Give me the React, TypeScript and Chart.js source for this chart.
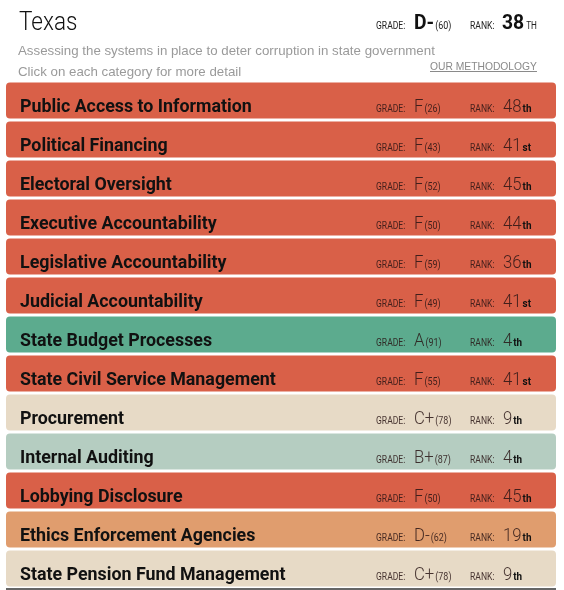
import React, { useEffect, useRef } from 'react';
import { Chart, registerables } from 'chart.js';
Chart.register(...registerables);

const stateName = 'Texas';
const overallGrade = 'D-';
const overallScore = 60;
const overallRank = 38;
const subtitleLines = [
  'Assessing the systems in place to deter corruption in state government',
  'Click on each category for more detail',
];
const methodologyLabel = 'OUR METHODOLOGY';

const categories = [
  'Public Access to Information',
  'Political Financing',
  'Electoral Oversight',
  'Executive Accountability',
  'Legislative Accountability',
  'Judicial Accountability',
  'State Budget Processes',
  'State Civil Service Management',
  'Procurement',
  'Internal Auditing',
  'Lobbying Disclosure',
  'Ethics Enforcement Agencies',
  'State Pension Fund Management',
];
const grades = ['F', 'F', 'F', 'F', 'F', 'F', 'A', 'F', 'C+', 'B+', 'F', 'D-', 'C+'];
const scores = [26, 43, 52, 50, 59, 49, 91, 55, 78, 87, 50, 62, 78];
const ranks = [48, 41, 45, 44, 36, 41, 4, 41, 9, 4, 45, 19, 9];
const rowSpan = [1, 1, 1, 1, 1, 1, 1, 1, 1, 1, 1, 1, 1];

const gradeColors: Record<string, string> = {
  A: '#5CAB8E',
  'B+': '#B5CDC1',
  'C+': '#E7DAC6',
  'D-': '#E09D6E',
  F: '#D96048',
};

function suffix(n: number) {
  const m = n % 100;
  if (m >= 11 && m <= 13) return 'th';
  if (n % 10 === 1) return 'st';
  if (n % 10 === 2) return 'nd';
  if (n % 10 === 3) return 'rd';
  return 'th';
}

function txt(ctx: CanvasRenderingContext2D, s: string, x: number, y: number, font: string, color: string, sx = 1) {
  ctx.save();
  ctx.font = font;
  ctx.fillStyle = color;
  ctx.textAlign = 'left';
  ctx.textBaseline = 'alphabetic';
  ctx.translate(x, y);
  ctx.scale(sx, 1);
  ctx.fillText(s, 0, 0);
  const w = ctx.measureText(s).width * sx;
  ctx.restore();
  return w;
}

const textPlugin = {
  id: 'rowText',
  afterDatasetsDraw(chart: any) {
    const ctx: CanvasRenderingContext2D = chart.ctx;
    // header
    txt(ctx, stateName, 19, 30, '300 25px Roboto', '#111', 0.9);
    txt(ctx, 'GRADE:', 376, 29, '400 11px Roboto', '#222', 0.78);
    let w = txt(ctx, overallGrade, 414, 29, '700 21px Roboto', '#111', 0.92);
    txt(ctx, `(${overallScore})`, 414 + w + 1, 29, '400 10.5px Roboto', '#222', 0.85);
    txt(ctx, 'RANK:', 470, 29, '400 11px Roboto', '#222', 0.78);
    w = txt(ctx, String(overallRank), 502, 29, '700 21px Roboto', '#111', 0.92);
    txt(ctx, suffix(overallRank).toUpperCase(), 502 + w + 2, 29, '400 10.5px Roboto', '#222', 0.78);
    txt(ctx, subtitleLines[0], 18, 55, '400 13.3px "Liberation Sans"', '#9a9a9a', 1);
    txt(ctx, subtitleLines[1], 18, 76, '400 13.3px "Liberation Sans"', '#9a9a9a', 1);
    const mw = txt(ctx, methodologyLabel, 430, 70, '400 10.3px "Liberation Sans"', '#8a8a8a', 1);
    ctx.save();
    ctx.strokeStyle = '#8a8a8a';
    ctx.lineWidth = 1;
    ctx.beginPath();
    ctx.moveTo(430, 71.5);
    ctx.lineTo(430 + mw, 71.5);
    ctx.stroke();
    ctx.restore();

    const meta = chart.getDatasetMeta(0);
    meta.data.forEach((bar: any, i: number) => {
      const y = bar.y + 11;
      txt(ctx, categories[i], 20, y, '700 18px Roboto', '#111', 0.99);
      const dark = 'rgba(40,20,20,0.85)';
      txt(ctx, 'GRADE:', 376, y, '400 11px Roboto', dark, 0.78);
      const gw = txt(ctx, grades[i], 414, y, '300 19px Roboto', dark, 0.88);
      txt(ctx, `(${scores[i]})`, 414 + gw + 1, y, '400 10.5px Roboto', dark, 0.85);
      txt(ctx, 'RANK:', 470, y, '400 11px Roboto', dark, 0.78);
      const rw = txt(ctx, String(ranks[i]), 503, y, '300 19px Roboto', dark, 0.88);
      txt(ctx, suffix(ranks[i]), 503 + rw + 1, y, '700 11px Roboto', '#111', 0.9);
    });

    const area = chart.chartArea;
    ctx.save();
    ctx.strokeStyle = '#333';
    ctx.lineWidth = 1.5;
    ctx.beginPath();
    ctx.moveTo(area.left, 589);
    ctx.lineTo(area.right, 589);
    ctx.stroke();
    ctx.restore();
  },
};

export default function App() {
  const ref = useRef<HTMLCanvasElement | null>(null);
  useEffect(() => {
    if (!ref.current) return;
    const chart = new Chart(ref.current, {
      type: 'bar',
      data: {
        labels: categories,
        datasets: [
          {
            data: rowSpan,
            backgroundColor: grades.map((g) => gradeColors[g]),
            borderRadius: 4,
            borderSkipped: false,
            barPercentage: 36 / 39,
            categoryPercentage: 1,
          },
        ],
      },
      options: {
        indexAxis: 'y',
        animation: false,
        responsive: true,
        maintainAspectRatio: false,
        layout: { padding: { top: 81, bottom: 2, left: 6, right: 8 } },
        scales: {
          x: { display: false, min: 0, max: 1 },
          y: { display: false },
        },
        plugins: { legend: { display: false }, tooltip: { enabled: false }, title: { display: false } },
      },
      plugins: [textPlugin],
    });
    return () => chart.destroy();
  }, []);
  return (
    <div style={{ position: 'absolute', left: 0, top: 0, width: 564, height: 590, background: '#fff' }}>
      <canvas ref={ref} />
    </div>
  );
}
